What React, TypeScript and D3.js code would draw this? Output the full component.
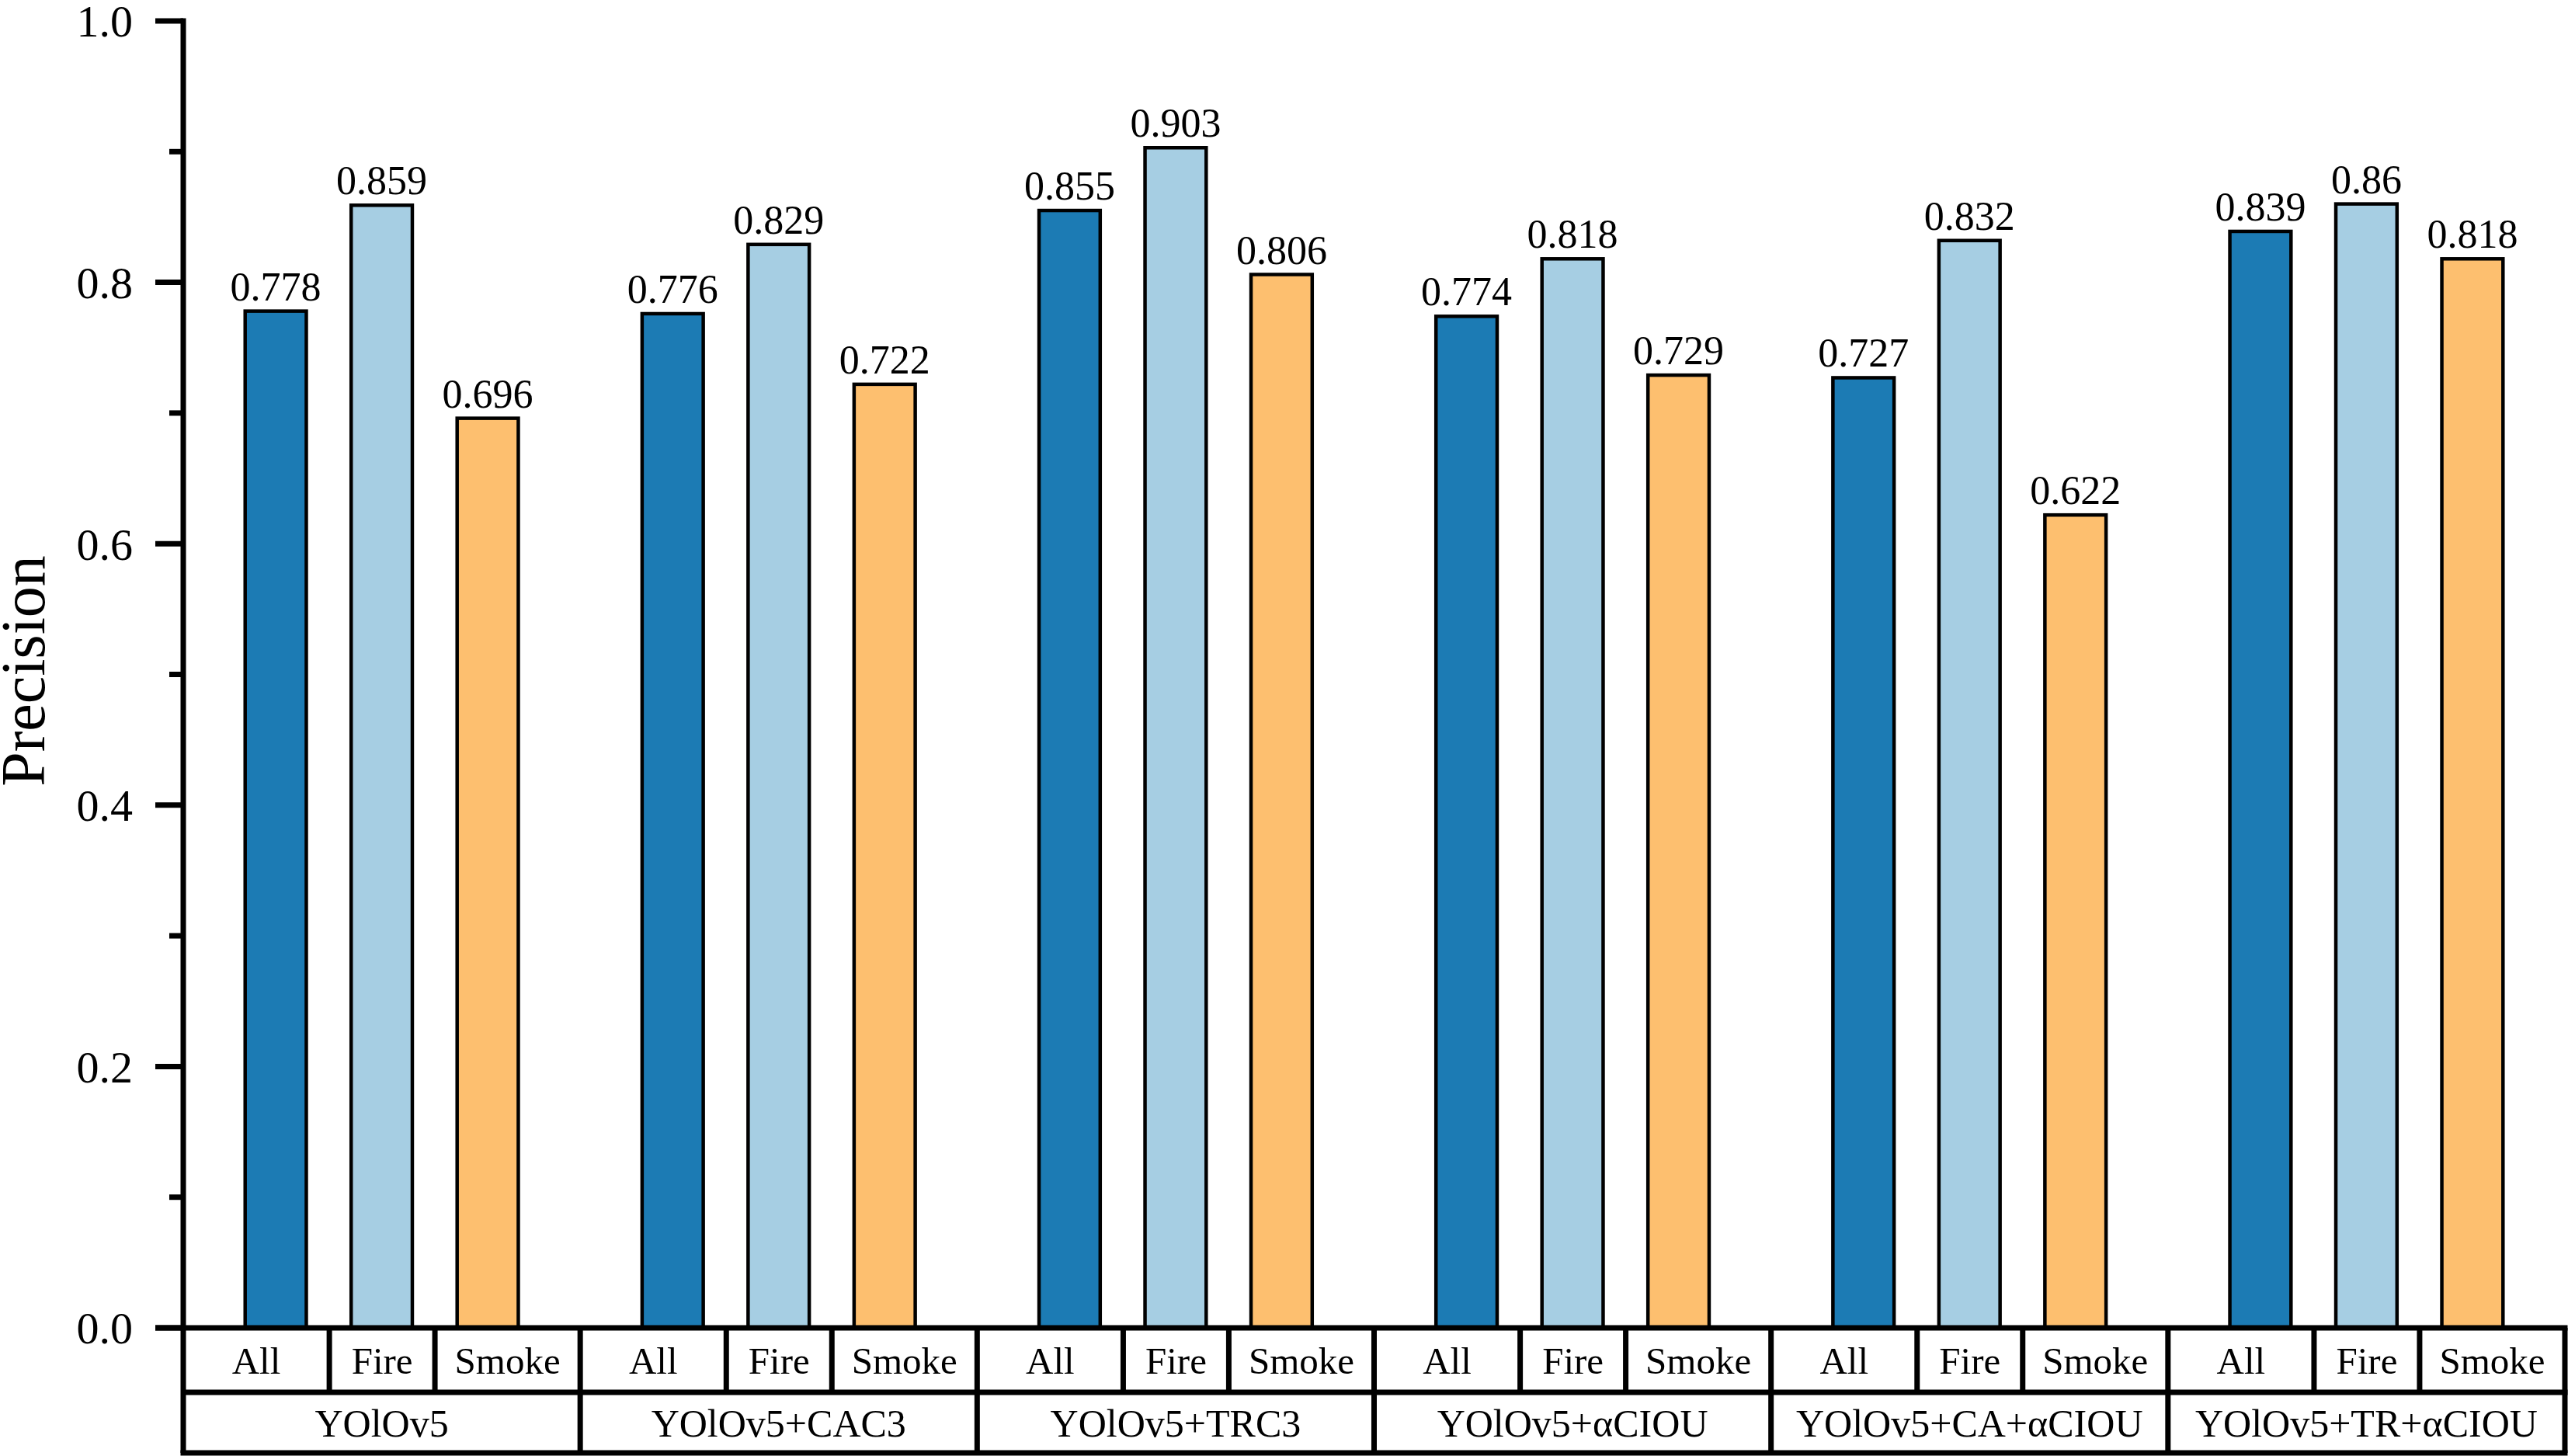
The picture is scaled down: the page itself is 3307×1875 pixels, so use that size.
import React from 'react';
import * as d3 from 'd3';

// chart data
const groups = ['YOlOv5', 'YOlOv5+CAC3', 'YOlOv5+TRC3', 'YOlOv5+αCIOU', 'YOlOv5+CA+αCIOU', 'YOlOv5+TR+αCIOU'];
const classes = ['All', 'Fire', 'Smoke'];
const allValues = [0.778, 0.776, 0.855, 0.774, 0.727, 0.839];
const fireValues = [0.859, 0.829, 0.903, 0.818, 0.832, 0.86];
const smokeValues = [0.696, 0.722, 0.806, 0.729, 0.622, 0.818];
const majorTicks = [0, 0.2, 0.4, 0.6, 0.8, 1.0];
const minorTicks = [0.1, 0.3, 0.5, 0.7, 0.9];
const yLabel = 'Precision';

const colors: Record<string, string> = { All: '#1c7bb4', Fire: '#a6cee3', Smoke: '#fdbf6f' };

const width = 3307;
const height = 1875;
const left = 236;
const right = 3303;
const top = 27;
const base = 1710;
const row1 = 1793;
const row2 = 1871;
const lineW = 7;
const font = '"Liberation Serif", "Times New Roman", serif';
// where the cell borders sit inside each group (fraction of group width)
const cellEdges = [0, 0.368, 0.634, 1];

export default function App() {
  const y = d3.scaleLinear().domain([0, 1]).range([base, top]);
  const x0 = d3.scaleBand().domain(groups).range([left, right]).padding(0);
  const gw = x0.bandwidth();
  const x1 = d3.scaleBand().domain(classes).range([0, gw]).paddingInner(0.423).paddingOuter(0.584);
  const fmt = d3.format('.1f');

  const series: Record<string, number[]> = { All: allValues, Fire: fireValues, Smoke: smokeValues };

  return (
    <svg width={width} height={height} style={{ position: 'absolute', left: 0, top: 0, display: 'block', background: '#fff' }}
      fontFamily={font}>
      <rect x={0} y={0} width={width} height={height} fill="#fff" />

      {/* bars */}
      {groups.map((g, gi) => (
        <g key={g} transform={`translate(${x0(g)},0)`}>
          {classes.map((c) => {
            const v = series[c][gi];
            const bx = x1(c)!;
            return (
              <g key={c}>
                <rect x={bx} y={y(v)} width={x1.bandwidth()} height={base - y(v)}
                  fill={colors[c]} stroke="#000" strokeWidth={4.5} />
                <text x={bx + x1.bandwidth() / 2} y={y(v) - 14} textAnchor="middle" fontSize={52} fill="#000">
                  {String(v)}
                </text>
              </g>
            );
          })}
        </g>
      ))}

      {/* y axis */}
      <line x1={left} x2={left} y1={top - lineW / 2} y2={row2} stroke="#000" strokeWidth={lineW} />
      {majorTicks.map((t) => (
        <g key={t}>
          <line x1={left - 36} x2={left} y1={y(t)} y2={y(t)} stroke="#000" strokeWidth={lineW} />
          <text x={171} y={y(t)} dy="0.35em" textAnchor="end" fontSize={58} fill="#000">{fmt(t)}</text>
        </g>
      ))}
      {minorTicks.map((t) => (
        <line key={t} x1={left - 18} x2={left} y1={y(t)} y2={y(t)} stroke="#000" strokeWidth={lineW} />
      ))}
      <text transform={`translate(57,864) rotate(-90)`} textAnchor="middle" fontSize={80} fill="#000">{yLabel}</text>

      {/* category table under the axis */}
      <line x1={left - 36} x2={right + lineW / 2} y1={base} y2={base} stroke="#000" strokeWidth={lineW} />
      <line x1={left} x2={right + lineW / 2} y1={row1} y2={row1} stroke="#000" strokeWidth={lineW} />
      <line x1={left - lineW / 2} x2={right + lineW / 2} y1={row2} y2={row2} stroke="#000" strokeWidth={lineW} />
      {groups.map((g) => {
        const gx = x0(g)!;
        return (
          <g key={g}>
            <line x1={gx + gw} x2={gx + gw} y1={base} y2={row2} stroke="#000" strokeWidth={lineW} />
            {cellEdges.slice(1, -1).map((f) => (
              <line key={f} x1={gx + f * gw} x2={gx + f * gw} y1={base} y2={row1} stroke="#000" strokeWidth={lineW} />
            ))}
            {classes.map((c, ci) => (
              <text key={c} x={gx + ((cellEdges[ci] + cellEdges[ci + 1]) / 2) * gw} y={(base + row1) / 2}
                dy="0.35em" textAnchor="middle" fontSize={49} fill="#000">{c}</text>
            ))}
            <text x={gx + gw / 2} y={(row1 + row2) / 2} dy="0.35em" textAnchor="middle" fontSize={50} fill="#000">{g}</text>
          </g>
        );
      })}
    </svg>
  );
}
